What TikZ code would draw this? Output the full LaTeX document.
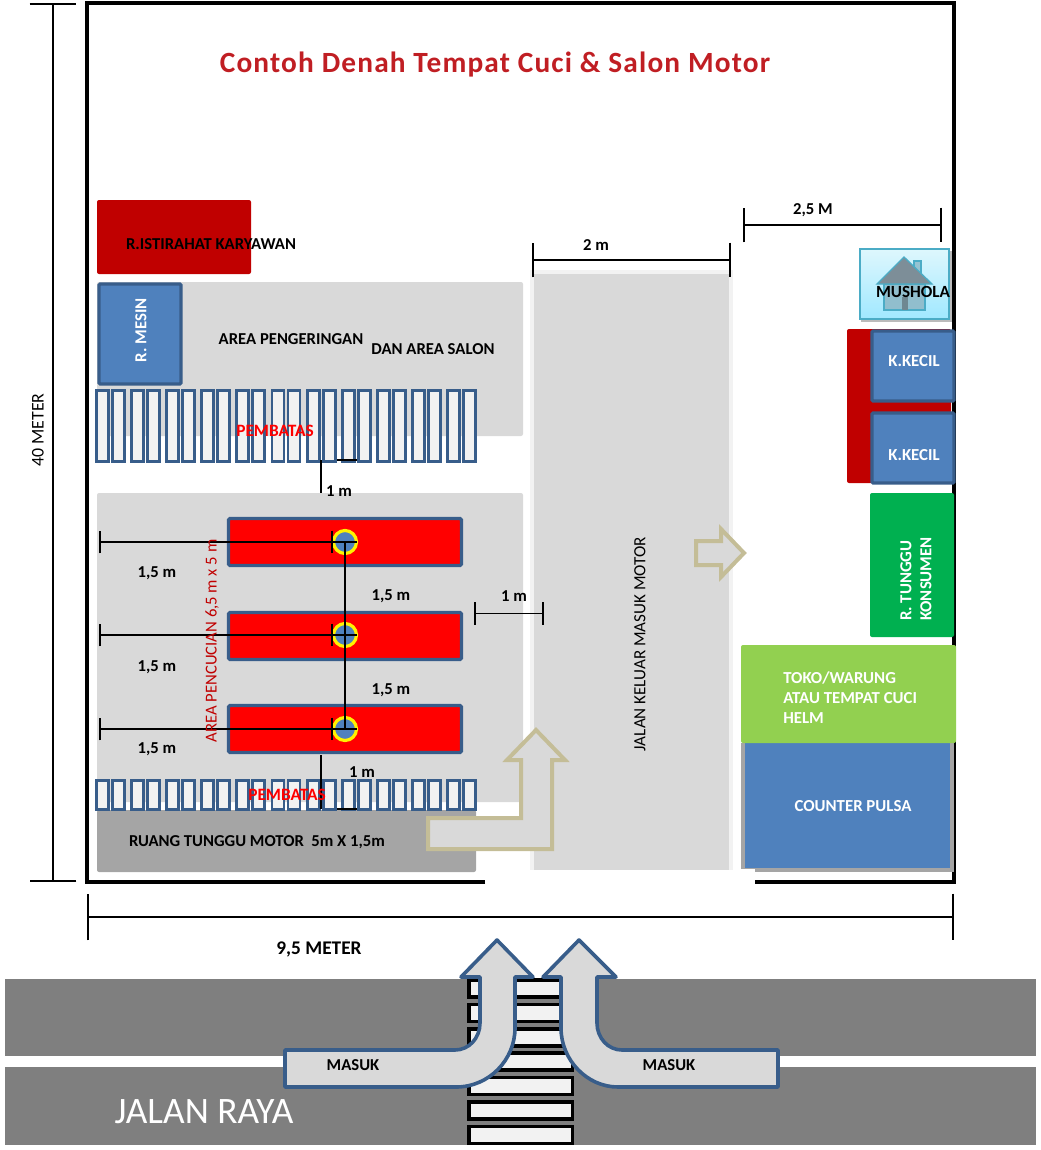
\documentclass[tikz,border=0pt]{standalone}
\usepackage{fontspec}
\setmainfont{Carlito}
\usetikzlibrary{arrows.meta}
\tikzset{
  wall/.style={line width=3.4pt,black},
  floorbox/.style={fill={rgb, 255:red, 217; green, 217; blue, 217 },rounded corners=1.5pt},
  roombox/.style={draw={rgb, 255:red, 56; green, 93; blue, 138 },line width=2.5pt,fill={rgb, 255:red, 79; green, 129; blue, 189 },rounded corners=1pt},
  washbox/.style={draw={rgb, 255:red, 56; green, 93; blue, 138 },line width=2.4pt,fill=red,rounded corners=1pt},
  fencebar/.style={draw={rgb, 255:red, 56; green, 93; blue, 138 },line width=2.2pt,fill={rgb, 255:red, 242; green, 242; blue, 242 }},
  zebrabar/.style={draw=black,line width=2.6pt,fill={rgb, 255:red, 242; green, 242; blue, 242 }},
  beigearrow/.style={draw={rgb, 255:red, 196; green, 189; blue, 151 },line width=3pt,fill={rgb, 255:red, 217; green, 217; blue, 217 },line join=miter},
  bluearrow/.style={draw={rgb, 255:red, 56; green, 93; blue, 138 },line width=2.7pt,fill={rgb, 255:red, 217; green, 217; blue, 217 },line join=round},
  dimline/.style={line width=1.2pt,black,{Bar[width=#1]}-{Bar[width=#1]}},
  dimline/.default=17pt,
  blacktext/.style={font=\bfseries\fontsize{12.5}{14}\selectfont,inner sep=0pt},
  whitetext/.style={font=\bfseries\fontsize{12.6}{15}\selectfont,text=white,inner sep=0pt},
  redtext/.style={font=\bfseries\fontsize{13}{14}\selectfont,text=red,inner sep=0pt},
}

\begin{document}
\begin{tikzpicture}[x=0.75pt,y=0.75pt,yscale=-1,xscale=1]
\useasboundingbox (0,0) rectangle (1041,1150);

%Road
\fill [fill={rgb, 255:red, 127; green, 127; blue, 127 }] (5,979) rectangle (1036,1056);
\fill [fill={rgb, 255:red, 127; green, 127; blue, 127 }] (5,1067) rectangle (1036,1145);
%Zebra crossing
\foreach \i in {0,...,6}
  \draw [zebrabar] (469,980+24.4*\i) rectangle (572.5,997+24.4*\i);
%Arrow left in
\draw [bluearrow] (285,1050) -- (455,1050) .. controls (469,1050) and (480,1038) .. (480,1023) -- (480,977) -- (461,977) -- (497,940) -- (533,977) -- (515,977) -- (515,1028) .. controls (515,1060) and (489,1087) .. (456,1087) -- (285,1087) -- cycle ;
%Arrow right in
\draw [bluearrow] (778,1050) -- (622,1050) .. controls (608,1050) and (597,1038) .. (597,1023) -- (597,977) -- (616,977) -- (579,940) -- (543,977) -- (561,977) -- (561,1028) .. controls (561,1060) and (587,1087) .. (618,1087) -- (778,1087) -- cycle ;

%Walls
\draw [wall] (485,882) -- (87,882) -- (87,3) -- (954,3) -- (954,882) -- (755,882) ;

%Exit lane
\fill [fill={rgb, 255:red, 242; green, 242; blue, 242 }] (530,270) rectangle (733,870);
\fill [fill={rgb, 255:red, 217; green, 217; blue, 217 }] (534,274) rectangle (729,870);
%Drying area and washing area
\fill [floorbox] (97,282) rectangle (523,436);
\fill [floorbox] (97,493) rectangle (523,802);
%Motor waiting room
\fill [fill={rgb, 255:red, 165; green, 165; blue, 165 },rounded corners=1.5pt] (97,810) rectangle (476,872);
%Staff room
\fill [fill={rgb, 255:red, 192; green, 0; blue, 0 },rounded corners=1.5pt] (97,200) rectangle (251,274);
%Machine room
\draw [roombox] (99,284) rectangle (181,384);
%Fences
\foreach \i in {0,...,10} {
  \draw [fencebar] (96.5+35.1*\i,390.5) rectangle (108.5+35.1*\i,461.5);
  \draw [fencebar] (112.5+35.1*\i,390.5) rectangle (124.5+35.1*\i,461.5);
  \draw [fencebar] (96.5+35.1*\i,780.5) rectangle (108.5+35.1*\i,809.5);
  \draw [fencebar] (112.5+35.1*\i,780.5) rectangle (124.5+35.1*\i,809.5);
}
%Washing bays
\foreach \y/\c in {518.5/542,612.5/635,705.5/729} {
  \draw [washbox] (228.5,\y) rectangle (461.5,\y+47);
  \draw [draw=yellow,line width=2.4pt,fill={rgb, 255:red, 79; green, 129; blue, 189 }] (345,\c) circle [radius=11.5];
}
%Arrow to the yard
\draw [beigearrow] (536,730) -- (565,760) -- (552,760) -- (552,849) -- (428,849) -- (428,818) -- (521,818) -- (521,760) -- (507,760) -- cycle ;
%Arrow to the right
\draw [beigearrow] (744,553) -- (721,529) -- (721,541) -- (696,541) -- (696,565) -- (721,565) -- (721,577) -- cycle ;

%Prayer room
\fill [fill={rgb, 255:red, 120; green, 120; blue, 120 },opacity=0.5] (861,251) rectangle (952,322);
\draw [draw={rgb, 255:red, 75; green, 172; blue, 198 },line width=1.5pt,top color={rgb, 255:red, 222; green, 247; blue, 253 },bottom color={rgb, 255:red, 160; green, 232; blue, 255 }] (860,249) rectangle (949,319);
\draw [draw={rgb, 255:red, 75; green, 172; blue, 198 },fill={rgb, 255:red, 145; green, 190; blue, 205 },line width=1pt] (884,284) rectangle (925,310);
\draw [draw={rgb, 255:red, 75; green, 172; blue, 198 },fill={rgb, 255:red, 150; green, 195; blue, 210 },line width=1pt] (914,261) rectangle (921,276);
\draw [draw={rgb, 255:red, 75; green, 172; blue, 198 },fill={rgb, 255:red, 125; green, 142; blue, 152 },line width=1pt] (904,257) -- (932,284) -- (877,284) -- cycle ;
\fill [fill={rgb, 255:red, 110; green, 135; blue, 145 }] (902,297) rectangle (908,310);

%Toilets
\fill [fill={rgb, 255:red, 192; green, 0; blue, 0 },rounded corners=1.5pt] (847,329) rectangle (951,483);
\draw [roombox] (872,331) rectangle (954,401);
\draw [roombox] (872,413) rectangle (954,483);
%Customer waiting room
\fill [fill={rgb, 255:red, 0; green, 176; blue, 80 },rounded corners=1.5pt] (870,493) rectangle (954,637);
%Counter
\fill [fill={rgb, 255:red, 165; green, 165; blue, 165 }] (741,743) rectangle (954,869);
\fill [fill={rgb, 255:red, 165; green, 165; blue, 165 }] (755,860) rectangle (954,872);
\fill [fill={rgb, 255:red, 79; green, 129; blue, 189 }] (745,743) rectangle (950,868);
%Shop
\fill [fill={rgb, 255:red, 146; green, 208; blue, 80 },rounded corners=1.5pt] (741,645) rectangle (956,743);

%Dimension lines
\coordinate (heightTop) at (53,3);
\coordinate (heightBottom) at (53,882);
\coordinate (widthLeft) at (87,917);
\coordinate (widthRight) at (954,917);
\coordinate (laneLeft) at (532,260);
\coordinate (laneRight) at (731,260);
\coordinate (sideLeft) at (743,225);
\coordinate (sideRight) at (942,225);
\coordinate (gapLeft) at (474,613.5);
\coordinate (gapRight) at (544,613.5);
\draw [dimline=35pt] (heightTop) -- (heightBottom) ;
\draw [dimline=35pt] (widthLeft) -- (widthRight) ;
\draw [dimline=26pt] (laneLeft) -- (laneRight) ;
\draw [dimline=26pt] (sideLeft) -- (sideRight) ;
\draw [dimline] (gapLeft) -- (gapRight) ;
\foreach \c/\n in {542/a,635/b,729/c} {
  \coordinate (bayStart\n) at (99,\c);
  \coordinate (bayEnd\n) at (333,\c);
  \draw [dimline] (bayStart\n) -- (bayEnd\n) ;
  \draw [line width=1.2pt] (bayEnd\n) -- (357,\c) ;
}
\coordinate (bayCentreTop) at (345,542);
\coordinate (bayCentreLow) at (345,729);
\draw [line width=1.2pt] (bayCentreTop) -- (bayCentreLow) ;
\coordinate (fenceTop) at (321,460);
\coordinate (fenceTopEnd) at (321,493);
\coordinate (fenceLow) at (321,755);
\coordinate (fenceLowEnd) at (321,809);
\draw [line width=1.2pt] (fenceTop) -- (fenceTopEnd) ;
\draw [line width=1.2pt] (fenceLow) -- (fenceLowEnd) ;
\draw [line width=1.2pt] (337,460) -- (357,460) ;
\draw [line width=1.2pt] (337,809) -- (357,809) ;

% Text Node
\draw (495,65) node (title) [inner sep=0pt,font=\bfseries\fontsize{22}{26}\selectfont\addfontfeature{LetterSpace=4},text={rgb, 255:red, 192; green, 30; blue, 35 }] {Contoh Denah Tempat Cuci \& Salon Motor};
% Text Node
\draw (38,430) node (height) [inner sep=0pt,font=\fontsize{13.4}{14}\selectfont,rotate=90] {40 METER};
% Text Node
\draw (319,949) node (width) [blacktext,font=\bfseries\fontsize{14.5}{14}\selectfont] {9,5 METER};
% Text Node
\draw (211,244) node (staff) [blacktext] {R.ISTIRAHAT KARYAWAN};
% Text Node
\draw (141,330) node (machine) [whitetext,rotate=90] {R. MESIN};
% Text Node
\draw (291,339) node (drying) [blacktext] {AREA PENGERINGAN};
% Text Node
\draw (433,349) node (salon) [blacktext] {DAN AREA SALON};
% Text Node
\draw (275,431) node (fenceA) [redtext] {PEMBATAS};
% Text Node
\draw (287,795) node (fenceB) [redtext] {PEMBATAS};
% Text Node
\draw (339,491) node (gapA) [blacktext] {1 m};
% Text Node
\draw (362,772) node (gapB) [blacktext] {1 m};
% Text Node
\draw (514,596) node (gapC) [blacktext] {1 m};
% Text Node
\draw (596,245) node (lane) [blacktext] {2 m};
% Text Node
\draw (813,210) node (side) [blacktext] {2,5 M};
% Text Node
\draw (157,573) node (leftA) [blacktext] {1,5 m};
% Text Node
\draw (157,667) node (leftB) [blacktext] {1,5 m};
% Text Node
\draw (157,749) node (leftC) [blacktext] {1,5 m};
% Text Node
\draw (391,596) node (midA) [blacktext] {1,5 m};
% Text Node
\draw (391,690) node (midB) [blacktext] {1,5 m};
% Text Node
\draw (212,641) node (washing) [inner sep=0pt,font=\fontsize{12.5}{14}\selectfont,text={rgb, 255:red, 192; green, 0; blue, 0 },rotate=90] {AREA PENCUCIAN 6,5 m x 5 m};
% Text Node
\draw (257,842) node (waiting) [blacktext] {RUANG TUNGGU MOTOR\ \ 5m X 1,5m};
% Text Node
\draw (640,644) node (exit) [inner sep=0pt,font=\fontsize{12.8}{14}\selectfont,rotate=90] {JALAN KELUAR MASUK MOTOR};
% Text Node
\draw (913,292) node (prayer) [blacktext,font=\bfseries\fontsize{12.8}{14}\selectfont] {MUSHOLA};
% Text Node
\draw (914,361) node (toiletA) [whitetext] {K.KECIL};
% Text Node
\draw (914,455) node (toiletB) [whitetext] {K.KECIL};
% Text Node
\draw (916,579) node (customer) [whitetext,align=left,rotate=90] {R. TUNGGU\\KONSUMEN};
% Text Node
\draw (783,698) node (shop) [whitetext,anchor=west,align=left] {TOKO/WARUNG\\ATAU TEMPAT CUCI\\HELM};
% Text Node
\draw (853,806) node (counter) [whitetext] {COUNTER PULSA};
% Text Node
\draw (353,1065) node (inLeft) [blacktext] {MASUK};
% Text Node
\draw (669,1065) node (inRight) [blacktext] {MASUK};
% Text Node
\draw (204,1112) node (road) [inner sep=0pt,font=\fontsize{28}{34}\selectfont,text=white] {JALAN RAYA};

\end{tikzpicture}
\end{document}
